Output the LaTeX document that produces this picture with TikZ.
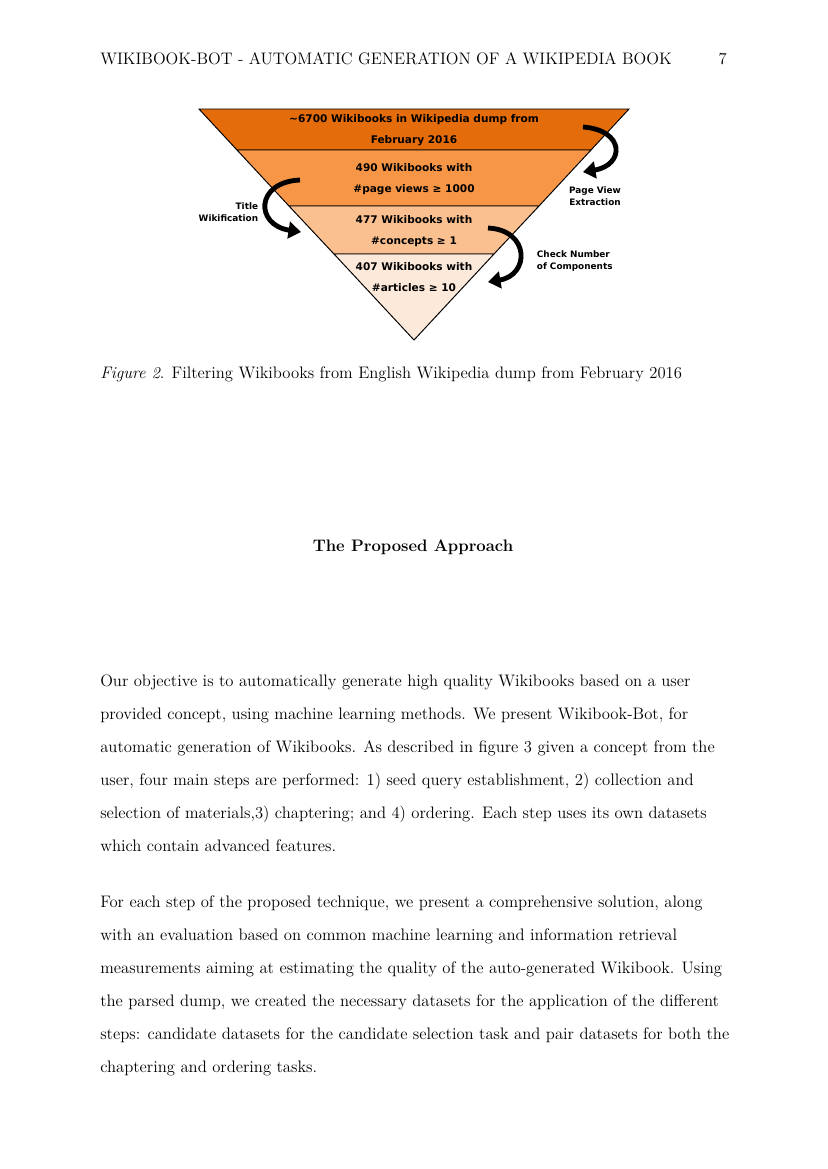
\documentclass[tikz,border=0pt]{standalone}
\usepackage{fontspec}
\newfontfamily\fun{DejaVu Sans}
\usetikzlibrary{arrows.meta}
\definecolor{o1}{HTML}{E46C0A}
\definecolor{o2}{HTML}{F79646}
\definecolor{o3}{HTML}{FAC090}
\definecolor{o4}{HTML}{FDE9D9}
\tikzset{
 ln/.style={anchor=base west,inner sep=0,font=\fontsize{12}{14}\selectfont},
 band/.style={draw=black,line width=0.7pt},
 ftxt/.style={font=\fun\bfseries\fontsize{7.6}{15}\selectfont,align=center},
 lbl/.style={font=\fun\bfseries\fontsize{6.4}{8.5}\selectfont},
 carrow/.style={line width=3.5pt,-{Triangle[length=9pt,width=12pt]}}
}
\begin{document}
\begin{tikzpicture}[x=0.72pt,y=-0.72pt]
\useasboundingbox[fill=white] (0,0) rectangle (827,1169);
% header
\node[ln] (h) at (100,64) {WIKIBOOK-BOT - AUTOMATIC GENERATION OF A WIKIPEDIA BOOK};
\node[ln,anchor=base east] (pg) at (727,64) {7};
% funnel
\coordinate (A) at (199,109); \coordinate (B) at (629,109);
\coordinate (L1) at (237,150); \coordinate (R1) at (591,150);
\coordinate (L2) at (289,206); \coordinate (R2) at (539,206);
\coordinate (L3) at (334,254); \coordinate (R3) at (494,254);
\coordinate (P) at (414,340);
\filldraw[band,fill=o1] (A)--(B)--(R1)--(L1)--cycle;
\filldraw[band,fill=o2] (L1)--(R1)--(R2)--(L2)--cycle;
\filldraw[band,fill=o3] (L2)--(R2)--(R3)--(L3)--cycle;
\filldraw[band,fill=o4] (L3)--(R3)--(P)--cycle;
\node[ftxt] (t1) at (414,130) {\textasciitilde6700 Wikibooks in Wikipedia dump from\\February 2016};
\node[ftxt] (t2) at (414,179) {490 Wikibooks with\\\#page views ≥ 1000};
\node[ftxt] (t3) at (414,231) {477 Wikibooks with\\\#concepts ≥ 1};
\node[ftxt] (t4) at (414,277) {407 Wikibooks with\\\#articles ≥ 10};
% arrows
\coordinate (a1s) at (583,127); \coordinate (a1e) at (583,172);
\draw[carrow] (a1s) .. controls (625,130) and (625,165) .. (a1e);
\coordinate (a2s) at (300,180); \coordinate (a2e) at (301,232);
\draw[carrow] (a2s) .. controls (255,182) and (255,225) .. (a2e);
\coordinate (a3s) at (488,228); \coordinate (a3e) at (488,282);
\draw[carrow] (a3s) .. controls (530,230) and (530,275) .. (a3e);
\node[lbl,align=center] (l1) at (595,196) {Page View\\Extraction};
\node[lbl,align=right,anchor=east] (l2) at (263,212) {Title\\Wikification};
\node[lbl,align=left,anchor=west] (l3) at (532,261) {Check Number\\of Components};
% caption
\node[ln] (cap) at (100,378) {\textit{Figure 2}. Filtering Wikibooks from English Wikipedia dump from February 2016};
\node[ln,anchor=base] (sec) at (413,551) {\bfseries The Proposed Approach};
% paragraphs
\node[ln] (p1) at (100,686) {Our objective is to automatically generate high quality Wikibooks based on a user};
\node[ln] (p2) at (100,719) {provided concept, using machine learning methods. We present Wikibook-Bot, for};
\node[ln] (p3) at (100,752) {automatic generation of Wikibooks. As described in figure 3 given a concept from the};
\node[ln] (p4) at (100,785) {user, four main steps are performed: 1) seed query establishment, 2) collection and};
\node[ln] (p5) at (100,818) {selection of materials,3) chaptering; and 4) ordering. Each step uses its own datasets};
\node[ln] (p6) at (100,851) {which contain advanced features.};
\node[ln] (q1) at (100,907) {For each step of the proposed technique, we present a comprehensive solution, along};
\node[ln] (q2) at (100,940) {with an evaluation based on common machine learning and information retrieval};
\node[ln] (q3) at (100,973) {measurements aiming at estimating the quality of the auto-generated Wikibook. Using};
\node[ln] (q4) at (100,1006) {the parsed dump, we created the necessary datasets for the application of the different};
\node[ln] (q5) at (100,1039) {steps: candidate datasets for the candidate selection task and pair datasets for both the};
\node[ln] (q6) at (100,1072) {chaptering and ordering tasks.};
\end{tikzpicture}
\end{document}
